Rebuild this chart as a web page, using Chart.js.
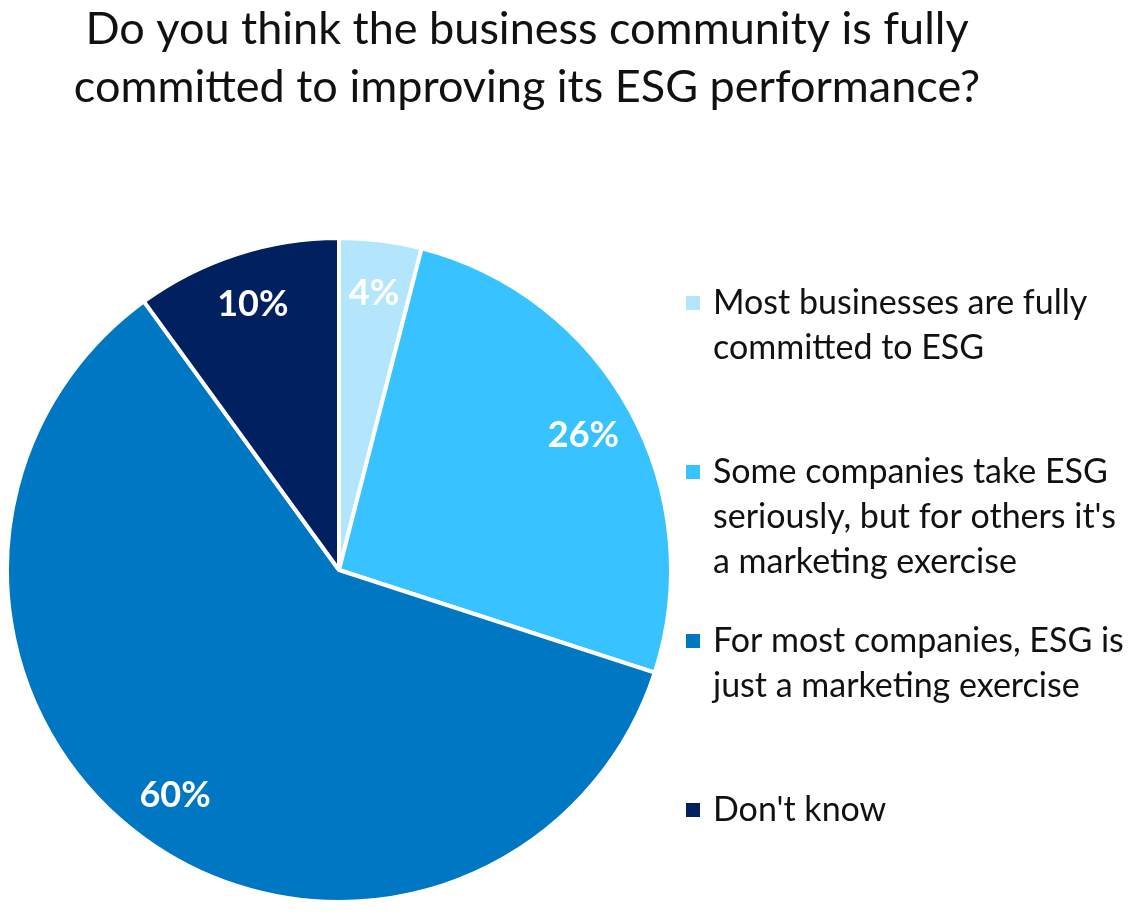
<!DOCTYPE html>
<html><head><meta charset="utf-8">
<script src="https://cdn.jsdelivr.net/npm/chart.js@4"></script>
<style>html,body{margin:0;padding:0;background:#fff}#wrap{width:1140px;height:921px;position:relative}</style>
</head><body><div id="wrap"><canvas id="c"></canvas></div>
<script>
const titleLines = ["Do you think the business community is fully", "committed to improving its ESG performance?"];
const categories = [
  ["Most businesses are fully", "committed to ESG"],
  ["Some companies take ESG", "seriously, but for others it's", "a marketing exercise"],
  ["For most companies, ESG is", "just a marketing exercise"],
  ["Don't know"]
];
const values = [4, 26, 60, 10];
const colors = ["#B3E6FC", "#38C2FF", "#0077C2", "#002060"];

const FONT = "Lato, 'Open Sans', sans-serif";

const overlay = {
  id: 'overlay',
  afterDraw(chart) {
    const ctx = chart.ctx;
    ctx.save();
    // title
    ctx.fillStyle = '#111';
    ctx.font = `45px ${FONT}`;
    ctx.textAlign = 'center';
    ctx.textBaseline = 'middle';
    ctx.fillText(titleLines[0], 527, 29);
    ctx.fillText(titleLines[1], 527, 87);
    // slice labels
    const meta = chart.getDatasetMeta(0);
    ctx.font = `bold 36px ${FONT}`;
    ctx.fillStyle = '#fff';
    meta.data.forEach((arc, i) => {
      const mid = (arc.startAngle + arc.endAngle) / 2;
      const r = arc.outerRadius * 0.84;
      ctx.fillText(values[i] + '%', arc.x + r * Math.cos(mid), arc.y + r * Math.sin(mid));
    });
    // legend
    ctx.textAlign = 'left';
    ctx.font = `34px ${FONT}`;
    const itemTops = [303, 472, 641, 810];
    categories.forEach((lines, i) => {
      ctx.fillStyle = colors[i];
      ctx.fillRect(686, itemTops[i] - 7, 14, 14);
      ctx.fillStyle = '#111';
      lines.forEach((ln, j) => ctx.fillText(ln, 713, itemTops[i] + j * 45));
    });
    ctx.restore();
  }
};

new Chart(document.getElementById('c'), {
  type: 'pie',
  data: {
    labels: categories.map(l => l.join(' ')),
    datasets: [{
      data: values,
      backgroundColor: colors,
      borderColor: '#fff',
      borderWidth: 4
    }]
  },
  options: {
    responsive: true,
    maintainAspectRatio: false,
    animation: false,
    layout: { padding: { left: 5, right: 467, top: 236, bottom: 17 } },
    plugins: { legend: { display: false }, tooltip: { enabled: false }, title: { display: false } }
  },
  plugins: [overlay]
});
</script></body></html>
